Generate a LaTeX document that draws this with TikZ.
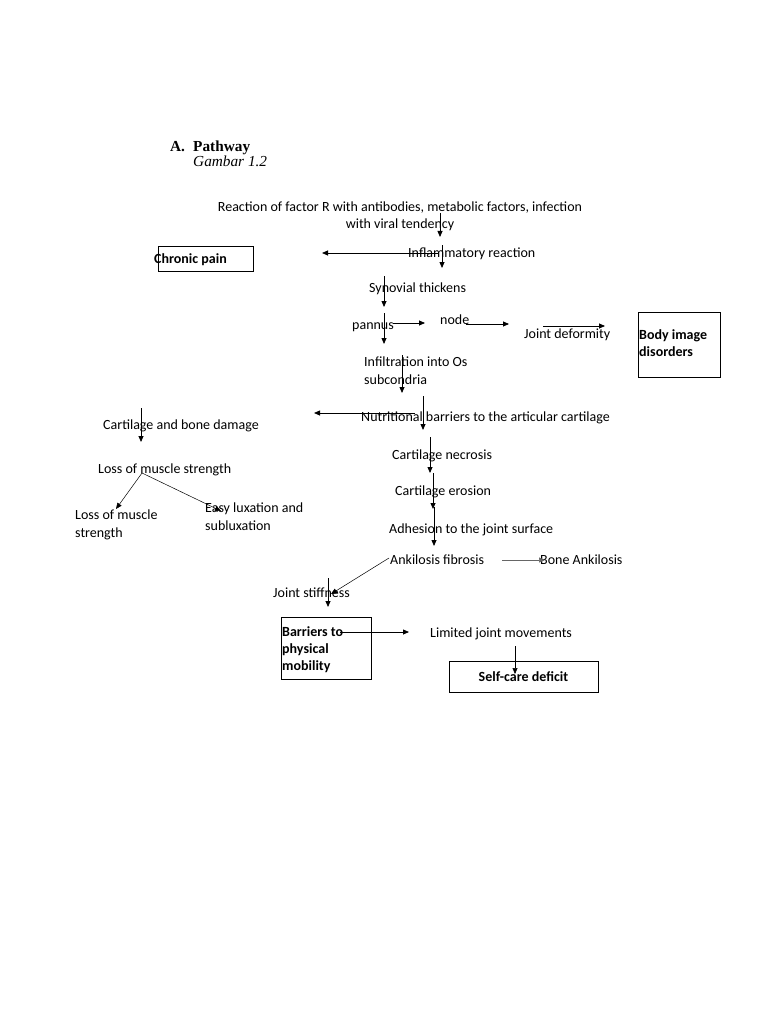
\documentclass[tikz,border=0pt]{standalone}
\usepackage{fontspec}
\setmainfont{Carlito}
\newfontfamily\titlefont{Liberation Serif}
\usetikzlibrary{arrows.meta}
\begin{document}
\begin{tikzpicture}[x=1pt,y=-1pt,
  lbl/.style={anchor=base west,inner sep=0pt,font=\fontsize{14}{17.8}\selectfont,align=left},
  blbl/.style={lbl,font=\fontsize{14}{17}\selectfont\bfseries},
  bx/.style={draw,line width=0.9pt,inner sep=0pt},
  arr/.style={line width=0.8pt,-{Triangle[length=6pt,width=5pt]}},
  tarr/.style={line width=0.5pt,-{Triangle[length=6pt,width=5pt]}},
  grr/.style={line width=0.6pt,draw=black!60,-{Triangle[length=6pt,width=5pt]}},
]
\useasboundingbox[fill=white] (0,0) rectangle (768,1024);

% title
\node[anchor=base west,inner sep=0pt,font=\titlefont\fontsize{15.3}{17}\selectfont\bfseries] (tA) at (170,152) {A.};
\node[anchor=base west,inner sep=0pt,font=\titlefont\fontsize{15.3}{17}\selectfont\bfseries] (tP) at (193,152) {Pathway};
\node[anchor=base west,inner sep=0pt,font=\titlefont\fontsize{15.3}{17}\selectfont\itshape] (tG) at (193,167) {Gambar 1.2};

% boxes
\node[bx,minimum width=95pt,minimum height=25pt] (bchr) at (205.5,258.5) {};
\node[bx,minimum width=82pt,minimum height=65pt] (bbody) at (679,344.5) {};
\node[bx,minimum width=90pt,minimum height=62pt] (bbar) at (326,648) {};
\node[bx,minimum width=149pt,minimum height=31pt] (bself) at (523.5,676.5) {};

% texts (base anchor = baseline of the last line)
\node[lbl,anchor=base,align=center] (react) at (400,229) {Reaction of factor R with antibodies, metabolic factors, infection\\with viral tendency};
\node[blbl] (chr) at (154,263) {Chronic pain};
\node[lbl] (infl) at (408,258) {Inflammatory reaction};
\node[lbl] (syn) at (369,292) {Synovial thickens};
\node[lbl] (pan) at (352,329) {pannus};
\node[lbl] (nod) at (440,324) {node};
\node[lbl] (jdef) at (524,338) {Joint deformity};
\node[blbl] (body) at (639,356) {Body image\\disorders};
\node[lbl] (infil) at (364,384) {Infiltration into Os\\subcondria};
\node[lbl] (nutr) at (361,421) {Nutritional barriers to the articular cartilage};
\node[lbl] (cbd) at (103,429) {Cartilage and bone damage};
\node[lbl] (loss1) at (98,473) {Loss of muscle strength};
\node[lbl] (loss2) at (75,537) {Loss of muscle\\strength};
\node[lbl] (easy) at (205,530) {Easy luxation and\\subluxation};
\node[lbl] (necr) at (392,459) {Cartilage necrosis};
\node[lbl] (eros) at (395,495) {Cartilage erosion};
\node[lbl] (adh) at (389,533) {Adhesion to the joint surface};
\node[lbl] (ankf) at (390,564) {Ankilosis fibrosis};
\node[lbl] (bank) at (540,564) {Bone Ankilosis};
\node[lbl] (jst) at (273,597) {Joint stiffness};
\node[blbl] (bar) at (282,670) {Barriers to\\physical\\mobility};
\node[lbl] (lim) at (430,637) {Limited joint movements};
\node[blbl,anchor=base] (self) at (523.5,681) {Self-care deficit};

% arrow end points
\coordinate (p1s) at (440,213);  \coordinate (p1e) at (440,237);
\coordinate (p2s) at (438,253);  \coordinate (p2e) at (322,253);
\coordinate (p3s) at (442,245);  \coordinate (p3e) at (442,268);
\coordinate (p4s) at (384,276);  \coordinate (p4e) at (384,307);
\coordinate (p5s) at (384,313);  \coordinate (p5e) at (384,344);
\coordinate (p6s) at (393,323);  \coordinate (p6e) at (425,323);
\coordinate (p7s) at (466,324);  \coordinate (p7e) at (509,324);
\coordinate (p8s) at (543,326);  \coordinate (p8e) at (605,326);
\coordinate (p9s) at (402,355);  \coordinate (p9e) at (402,393);
\coordinate (p10s) at (423,396); \coordinate (p10e) at (423,430);
\coordinate (p11s) at (415,413); \coordinate (p11e) at (314,413);
\coordinate (p12s) at (141,408); \coordinate (p12e) at (141,442);
\coordinate (fork) at (142,473);
\coordinate (p13e) at (116,509); \coordinate (p14e) at (221,511);
\coordinate (p15s) at (430,437); \coordinate (p15e) at (430,473);
\coordinate (p16s) at (433,473); \coordinate (p16e) at (433,509);
\coordinate (p17s) at (434,507); \coordinate (p17e) at (434,546);
\coordinate (p18s) at (502,560); \coordinate (p18e) at (545,560);
\coordinate (p19s) at (389,558); \coordinate (p19e) at (331,594);
\coordinate (p20s) at (328,578); \coordinate (p20e) at (328,607);
\coordinate (p21s) at (340,632); \coordinate (p21e) at (409,632);
\coordinate (p22s) at (515,646); \coordinate (p22e) at (515,674);

% arrows
\draw[arr] (p1s) -- (p1e);
\draw[arr] (p2s) -- (p2e);
\draw[arr] (p3s) -- (p3e);
\draw[arr] (p4s) -- (p4e);
\draw[arr] (p5s) -- (p5e);
\draw[arr] (p6s) -- (p6e);
\draw[arr] (p7s) -- (p7e);
\draw[arr] (p8s) -- (p8e);
\draw[arr] (p9s) -- (p9e);
\draw[arr] (p10s) -- (p10e);
\draw[arr] (p11s) -- (p11e);
\draw[arr] (p12s) -- (p12e);
\draw[tarr] (fork) -- (p13e);
\draw[tarr] (fork) -- (p14e);
\draw[arr] (p15s) -- (p15e);
\draw[arr] (p16s) -- (p16e);
\draw[arr] (p17s) -- (p17e);
\draw[grr] (p18s) -- (p18e);
\draw[tarr] (p19s) -- (p19e);
\draw[arr] (p20s) -- (p20e);
\draw[arr] (p21s) -- (p21e);
\draw[tarr] (p22s) -- (p22e);
\end{tikzpicture}
\end{document}
